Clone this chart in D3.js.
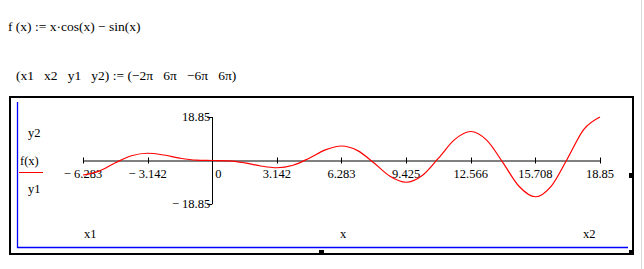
<!DOCTYPE html>
<html lang="en">
<head>
<meta charset="UTF-8">
<title>f(x) plot</title>
<script src="https://cdn.jsdelivr.net/npm/d3@7"></script>
<style>
  body { margin: 0; background: #fff; }
  svg text { font-family: "Liberation Serif", "Times New Roman", serif; white-space: pre; fill: #000; }
</style>
</head>
<body>
<script>
const xs = [-6.283, -5.498, -4.712, -3.927, -3.142, -2.356, -1.571, -0.785, 0,
            0.785, 1.571, 2.356, 3.142, 3.927, 4.712, 5.498, 6.283,
            7.069, 7.854, 8.639, 9.425, 10.21, 10.996, 11.781, 12.566,
            13.352, 14.137, 14.923, 15.708, 16.493, 17.279, 18.064, 18.85]
const fx = [-6.283, -4.595, -1, 2.069, 3.142, 2.373, 1, 0.152, 0,
            -0.152, -1, -2.373, -3.142, -2.069, 1, 4.595, 6.283,
            4.291, -1, -6.816, -9.425, -6.513, 1, 9.037, 12.566,
            8.734, -1, -11.259, -15.708, -10.955, 1, 13.48, 18.85]
const xTicks = [-6.283, -3.142, 0, 3.142, 6.283, 9.425, 12.566, 15.708, 18.85]
const yTicks = [-18.85, 18.85]
const xRange = [-6.283, 18.85]
const yRange = [-18.85, 18.85]

const w = 644, h = 269
const svg = d3.select("body").append("svg").attr("width", w).attr("height", h)

// worksheet text
svg.append("text").attr("x", 8).attr("y", 31).style("font-size", "13.5px")
  .text("f (x) := x·cos(x) − sin(x)")
svg.append("text").attr("x", 16).attr("y", 80).style("font-size", "13.5px")
  .text("(x1   x2   y1   y2) := (−2π   6π   −6π   6π)")

// page edge
svg.append("line").attr("x1", 641.5).attr("x2", 641.5).attr("y1", 0).attr("y2", h)
  .attr("stroke", "#d8d8d8")

// plot region frame
svg.append("rect").attr("x", 10).attr("y", 97).attr("width", 623).attr("height", 157)
  .attr("fill", "none").attr("stroke", "#000").attr("stroke-width", 2)
svg.append("line").attr("x1", 17.5).attr("x2", 17.5).attr("y1", 102).attr("y2", 248)
  .attr("stroke", "#0000ff").attr("stroke-width", 1.3)
svg.append("line").attr("x1", 17).attr("x2", 628).attr("y1", 247.5).attr("y2", 247.5)
  .attr("stroke", "#0000ff").attr("stroke-width", 1.3)
const handles = [[319, 250], [629, 250], [629, 173]]
svg.selectAll("rect.handle").data(handles).enter().append("rect").attr("class", "handle")
  .attr("x", d => d[0]).attr("y", d => d[1]).attr("width", 5).attr("height", 5).attr("fill", "#000")

const x = d3.scaleLinear().domain(xRange).range([83, 600])
const y = d3.scaleLinear().domain(yRange).range([204, 117])

const fmt = v => (v < 0 ? "− " + Math.abs(v) : String(v))

// x axis
svg.append("line").attr("x1", x(xRange[0])).attr("x2", x(xRange[1]))
  .attr("y1", y(0) + 0.5).attr("y2", y(0) + 0.5).attr("stroke", "#000")
svg.selectAll("line.xt").data(xTicks.filter(d => d !== 0)).enter().append("line")
  .attr("x1", d => Math.round(x(d)) + 0.5).attr("x2", d => Math.round(x(d)) + 0.5)
  .attr("y1", y(0) - 3).attr("y2", y(0) + 3).attr("stroke", "#000")
svg.selectAll("text.xl").data(xTicks).enter().append("text")
  .attr("x", d => d === 0 ? x(0) + 3 : x(d))
  .attr("y", y(0) + 17)
  .attr("text-anchor", d => d === 0 ? "start" : "middle")
  .style("font-size", "12.5px")
  .text(d => fmt(d))

// y axis
svg.append("line").attr("x1", Math.round(x(0)) + 0.5).attr("x2", Math.round(x(0)) + 0.5)
  .attr("y1", y(yRange[1])).attr("y2", y(yRange[0])).attr("stroke", "#000")
svg.selectAll("line.yt").data(yTicks).enter().append("line")
  .attr("x1", x(0) - 5).attr("x2", x(0))
  .attr("y1", d => Math.round(y(d)) + 0.5).attr("y2", d => Math.round(y(d)) + 0.5)
  .attr("stroke", "#000")
svg.selectAll("text.yl").data(yTicks).enter().append("text")
  .attr("x", x(0) - 2).attr("y", d => y(d) + 4)
  .attr("text-anchor", "end").style("font-size", "12.5px")
  .text(d => fmt(d))

// curve
const line = d3.line().x((d, i) => x(xs[i])).y(d => y(d)).curve(d3.curveMonotoneX)
svg.append("path").attr("d", line(fx)).attr("fill", "none")
  .attr("stroke", "#ff0000").attr("stroke-width", 1.2)

// axis / legend labels
svg.append("text").attr("x", 28).attr("y", 137).style("font-size", "12.5px").text("y2")
svg.append("text").attr("x", 20).attr("y", 165).style("font-size", "12.5px").text("f(x)")
svg.append("line").attr("x1", 19).attr("x2", 43).attr("y1", 172.5).attr("y2", 172.5)
  .attr("stroke", "#ff0000")
svg.append("text").attr("x", 28).attr("y", 193).style("font-size", "12.5px").text("y1")
svg.append("text").attr("x", 84).attr("y", 238).style("font-size", "12.5px").text("x1")
svg.append("text").attr("x", 343).attr("y", 238).style("font-size", "12.5px").attr("text-anchor", "middle").text("x")
svg.append("text").attr("x", 583).attr("y", 238).style("font-size", "12.5px").text("x2")
</script>
</body>
</html>
